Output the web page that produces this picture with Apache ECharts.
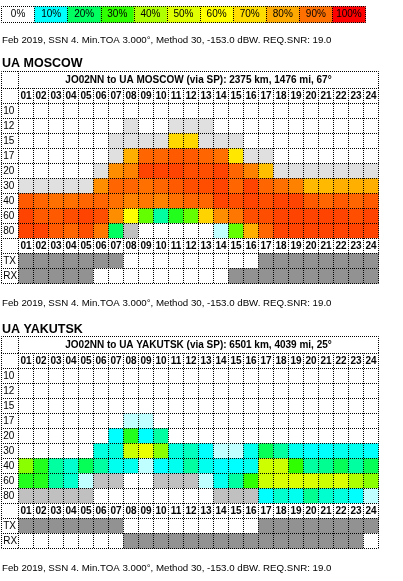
<!DOCTYPE html>
<html>
<head>
<meta charset="utf-8">
<script src="https://cdn.jsdelivr.net/npm/echarts@6/dist/echarts.min.js"></script>
<style>
html, body { margin: 0; padding: 0; background: #fff; }
#chart { width: 403px; height: 581px; }
</style>
</head>
<body>
<div id="chart"></div>
<script>
// special cell codes (not on the % scale)
const G = -1, C = -2, S = -3, T = -4;

const hours = ['01','02','03','04','05','06','07','08','09','10','11','12',
               '13','14','15','16','17','18','19','20','21','22','23','24'];
const freqs = ['10','12','15','17','20','30','40','60','80'];
const legendSteps = [0, 10, 20, 30, 40, 50, 60, 70, 80, 90, 100];
const infoLine = 'Feb 2019, SSN 4. Min.TOA 3.000°, Method 30, -153.0 dBW. REQ.SNR: 19.0';

const moscowName = 'UA MOSCOW';
const moscowTitle = 'JO02NN to UA MOSCOW (via SP): 2375 km, 1476 mi, 67°';
const moscowRel = [
    [0,0,0,0,0,0,0,0,0,0,0,0,0,0,0,0,0,0,0,0,0,0,0,0],
    [0,0,0,0,0,0,0,G,0,0,G,G,G,0,0,0,0,0,0,0,0,0,0,0],
    [0,0,0,0,0,0,G,G,G,G,71,71,G,G,G,0,0,0,0,0,0,0,0,0],
    [0,0,0,0,0,0,G,79,91,91,92,92,91,90,67,G,G,0,0,0,0,0,0,0],
    [0,0,0,0,0,G,85,87,94,94,94,93,93,94,91,87,76,G,G,G,G,G,G,G],
    [G,G,G,G,G,85,91,91,90,91,92,93,93,94,91,94,91,90,87,77,77,79,79,79],
    [92,91,90,90,91,91,90,87,89,87,90,91,91,94,93,94,93,94,94,92,91,92,91,92],
    [94,92,92,93,94,93,85,60,34,16,27,34,72,85,89,93,93,94,94,94,94,94,93,94],
    [94,94,92,91,93,89,20,S,0,0,0,0,0,C,34,79,91,94,94,94,94,94,94,94]
];
const moscowTx = [1,1,1,1,1,1,1,0,0,0,0,0,0,0,0,0,1,1,1,1,1,1,1,1];
const moscowRx = [1,1,1,1,1,0,0,0,0,0,0,0,0,0,1,1,1,1,1,1,1,1,1,1];

const yakutskName = 'UA YAKUTSK';
const yakutskTitle = 'JO02NN to UA YAKUTSK (via SP): 6501 km, 4039 mi, 25°';
const yakutskRel = [
    [0,0,0,0,0,0,0,0,0,0,0,0,0,0,0,0,0,0,0,0,0,0,0,0],
    [0,0,0,0,0,0,0,0,0,0,0,0,0,0,0,0,0,0,0,0,0,0,0,0],
    [0,0,0,0,0,0,0,0,0,0,0,0,0,0,0,0,0,0,0,0,0,0,0,0],
    [0,0,0,0,0,0,0,C,C,0,0,0,0,0,0,0,0,0,0,0,0,0,0,0],
    [0,0,0,0,0,0,10,27,10,16,0,0,0,0,0,0,0,0,0,0,0,0,0,0],
    [0,0,0,0,0,12,12,46,54,37,12,14,10,C,C,11,21,16,11,10,10,11,11,10],
    [37,27,16,13,21,16,11,11,C,10,11,16,11,10,10,11,46,46,30,16,17,21,16,21],
    [27,27,16,13,C,S,S,0,0,S,S,S,C,11,16,30,46,49,49,49,46,49,40,37],
    [S,S,S,S,S,0,0,0,0,0,0,0,0,S,S,S,10,13,11,17,13,12,10,C]
];
const yakutskTx = [1,1,1,1,1,1,1,0,0,0,0,0,0,0,0,0,1,1,1,1,1,1,1,1];
const yakutskRx = [0,0,0,0,0,0,0,1,1,1,1,1,1,1,1,1,1,1,1,1,1,1,1,0];

// colour scale, 0..100 % in steps of 10
const stops = ['#ffffff','#00ffff','#00ff60','#30ff00','#b0ff00','#e0ff00',
               '#ffff00','#ffdd00','#ffaa00','#ff7000','#ff0000'];
const special = { '-1': '#e0e0e0', '-2': '#c0ffff', '-3': '#c0c0c0', '-4': '#929292' };

function colorOf(v) {
    if (v < 0) return special[v];
    return echarts.color.lerp(v / 100, stops);
}

const font = '"Liberation Sans", Arial, Helvetica, sans-serif';
// lines sit on half pixels, offset the dash so the dots land on whole pixels
const dotted = { show: true, interval: 0, lineStyle: { color: '#000', width: 1, type: [1, 1], dashOffset: 0.5 } };

let grids = [], xAxes = [], yAxes = [], series = [];

function cell(x, y, v, text) {
    return {
        value: [x, y, v],
        itemStyle: { color: colorOf(v) },
        label: text === undefined ? { show: false } : { show: true, formatter: text }
    };
}

function range(n) {
    return Array.from({ length: n }, (_, i) => String(i));
}

function cellGrid(box, nx, ny, data, label) {
    let i = grids.length;
    grids.push(box);
    let axis = {
        type: 'category', gridIndex: i, z: 5,
        axisLine: { show: false }, axisTick: { show: false }, axisLabel: { show: false },
        splitLine: dotted
    };
    xAxes.push(Object.assign({ data: range(nx) }, axis));
    yAxes.push(Object.assign({ data: range(ny), inverse: true }, axis));
    series.push({
        type: 'heatmap', xAxisIndex: i, yAxisIndex: i, data: data,
        itemStyle: { borderWidth: 0 },
        label: Object.assign({ show: false, color: '#000', fontSize: 10, fontFamily: font }, label || {}),
        emphasis: { disabled: true }
    });
}

function table(top, title, rel, tx, rx) {
    cellGrid({ left: 1.5, top: top, width: 17, height: 17 }, 1, 1, [cell(0, 0, 0)]);
    cellGrid({ left: 18.5, top: top, width: 360, height: 17 }, 1, 1,
        [cell(0, 0, 0, title)], { fontWeight: 'bold' });
    let body = top + 17;
    let rowNames = [''].concat(freqs, ['', 'TX', 'RX']);
    cellGrid({ left: 1.5, top: body, width: 17, height: 195 }, 1, 13,
        rowNames.map((t, j) => cell(0, j, 0, t)), { position: 'insideLeft', distance: 2 });
    let data = [];
    hours.forEach((h, x) => {
        data.push(cell(x, 0, 0, h));
        rel.forEach((row, j) => data.push(cell(x, j + 1, row[x])));
        data.push(cell(x, 10, 0, h));
        data.push(cell(x, 11, tx[x] ? T : 0));
        data.push(cell(x, 12, rx[x] ? T : 0));
    });
    cellGrid({ left: 18.5, top: body, width: 360, height: 195 }, 24, 13, data, { fontWeight: 'bold' });
}

// legend strip
cellGrid({ left: 1.5, top: 6.5, width: 364, height: 16 }, 11, 1,
    legendSteps.map((v, x) => cell(x, 0, v, v + '%')));

table(71.5, moscowTitle, moscowRel, moscowTx, moscowRx);
table(336.5, yakutskTitle, yakutskRel, yakutskTx, yakutskRx);

function text(str, top, bold) {
    return {
        text: str, left: 2, top: top, padding: 0,
        textStyle: { fontFamily: font, fontSize: bold ? 12.5 : 9.7, fontWeight: bold ? 'bold' : 'normal', color: '#000' }
    };
}

let myChart = echarts.init(document.getElementById('chart'));
myChart.setOption({
    animation: false,
    textStyle: { fontFamily: font },
    title: [
        text(infoLine, 35),
        text(moscowName, 57, true),
        text(infoLine, 298),
        text(yakutskName, 323, true),
        text(infoLine, 563)
    ],
    grid: grids,
    xAxis: xAxes,
    yAxis: yAxes,
    series: series
});
</script>
</body>
</html>
